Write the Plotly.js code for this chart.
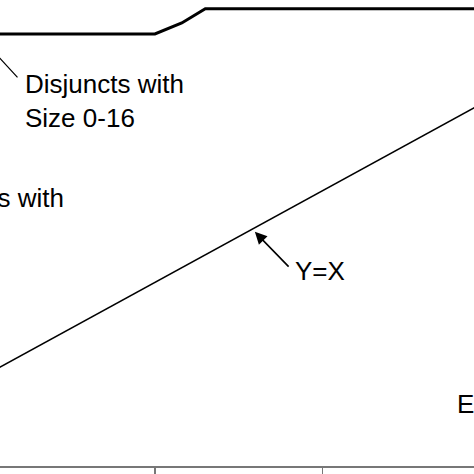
<!DOCTYPE html>
<html>
<head>
<meta charset="utf-8">
<script src="https://cdn.plot.ly/plotly-3.0.1.min.js"></script>
<style>
  html, body { margin: 0; padding: 0; background: #fff; }
  #chart { width: 474px; height: 474px; }
</style>
</head>
<body>
<div id="chart"></div>
<script>
// upper curve (disjuncts with size 0-16)
const sizeX = [0, 20, 23.2, 26, 60];
const sizeY = [74.1, 74.1, 76.5, 79.6, 79.6];

// reference diagonal
const diagX = [0, 60];
const diagY = [0, 60];

const tickVals = [20, 40];

function chart()
{
  const div = document.getElementById("chart");
  const font = {family: "Liberation Sans, Arial, sans-serif", size: 26, color: "#000"};

  const traces = [
    {
      x: sizeX,
      y: sizeY,
      type: "scatter",
      mode: "lines",
      line: {color: "#000", width: 3},
      hoverinfo: "skip"
    },
    {
      x: diagX,
      y: diagY,
      type: "scatter",
      mode: "lines",
      line: {color: "#000", width: 1.5},
      hoverinfo: "skip"
    }
  ];

  const annotations = [
    // labels
    {x: 4.3, y: 59.5, xref: "x", yref: "y", text: "Disjuncts with<br>Size 0-16",
      showarrow: false, xanchor: "left", yanchor: "middle", align: "left", font},
    {x: 9.4, y: 38.4, xref: "x", yref: "y", text: "Disjuncts with",
      showarrow: false, xanchor: "right", yanchor: "middle", font},
    {x: 36.5, y: 22.4, xref: "x", yref: "y", text: "Y=X",
      showarrow: false, xanchor: "left", yanchor: "middle", font},
    {x: 55.7, y: -6.5, xref: "x", yref: "y", text: "E",
      showarrow: false, xanchor: "left", yanchor: "middle", font},
    // leader lines
    {x: 1.2, y: 69.5, ax: 3.81, ay: 64.3, xref: "x", yref: "y", axref: "x", ayref: "y",
      text: " ", font: {size: 1}, showarrow: true, arrowhead: 0, arrowwidth: 1.2, arrowcolor: "#000"},
    {x: 31.9, y: 31.0, ax: 36.1, ay: 23.1, xref: "x", yref: "y", axref: "x", ayref: "y",
      text: " ", font: {size: 1}, showarrow: true, arrowhead: 2, arrowsize: 1.5,
      arrowwidth: 1.6, arrowcolor: "#000"}
  ];

  const layout = {
    width: 474,
    height: 474,
    margin: {l: 0, r: 0, t: 0, b: 8},
    paper_bgcolor: "#fff",
    plot_bgcolor: "#fff",
    showlegend: false,
    xaxis: {
      range: [1.55, 58],
      showgrid: false,
      zeroline: false,
      showline: true,
      linecolor: "#777",
      linewidth: 1.5,
      ticks: "outside",
      ticklen: 8,
      tickwidth: 1.2,
      tickcolor: "#777",
      tickvals: tickVals,
      showticklabels: false
    },
    yaxis: {
      range: [-20, 81.5],
      showgrid: false,
      zeroline: false,
      showline: false,
      showticklabels: false
    },
    annotations
  };

  Plotly.newPlot(div, traces, layout, {staticPlot: true, displayModeBar: false});
}

chart();
</script>
</body>
</html>
